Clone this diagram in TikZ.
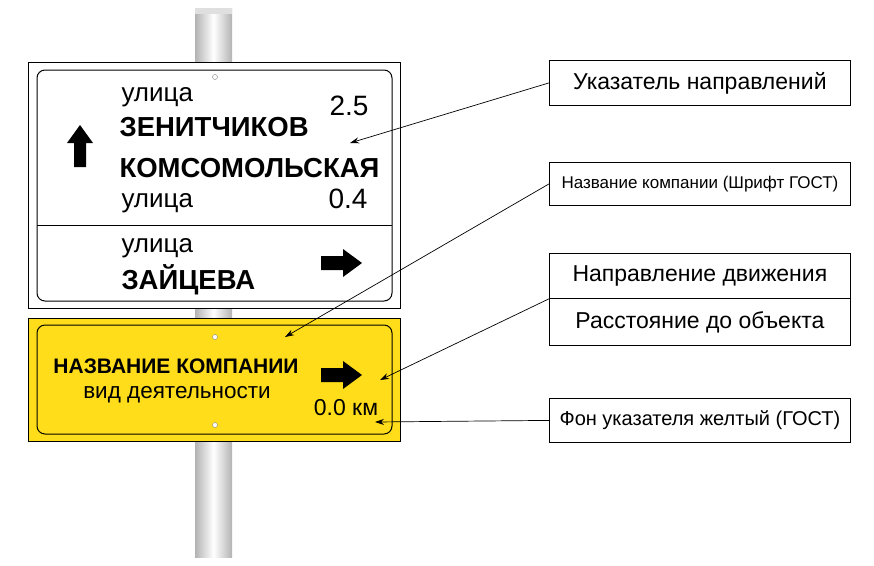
\documentclass[tikz,border=0pt]{standalone}
\usepackage{fontspec}
\setmainfont{Liberation Sans}
\usetikzlibrary{arrows.meta}
\begin{document}
\begin{tikzpicture}[x=1pt,y=-1pt,
  lbl/.style={draw,line width=0.8pt,minimum width=301pt,anchor=north west,inner sep=0pt},
  con/.style={-{Stealth[length=9pt,width=6pt]},line width=0.7pt},
  screw/.style={circle,draw=gray,fill=white,inner sep=0pt,minimum size=5pt},
  bigarr/.style={fill=black,draw=none}]
\useasboundingbox (0,0) rectangle (874,565);
% pole
\shade[left color=gray!60,right color=gray!60,middle color=white] (195,8) rectangle (232,557);
\fill[gray!25] (195,8) rectangle (232,14);
% white sign
\draw[line width=1pt,fill=white] (28,62) rectangle (400,308);
\draw[line width=1pt,rounded corners=8pt] (37,70) rectangle (392,301);
\draw[line width=1pt] (37,225) -- (392,225);
% yellow sign
\draw[line width=1pt,fill={rgb,255:red,255;green,221;blue,26}] (28,318) rectangle (400,441);
\draw[line width=1pt,rounded corners=8pt] (37,325) rectangle (392,434);
\node[screw] (s1) at (215,77) {};
\node[screw] (s2) at (215,337) {};
\node[screw] (s3) at (215,425) {};
% texts
\node[anchor=west,font=\fontsize{26}{26}\selectfont] (u1) at (118,97) {улица};
\node[anchor=west,font=\fontsize{27.5}{27}\selectfont\bfseries] (z1) at (116,127) {ЗЕНИТЧИКОВ};
\node[font=\fontsize{28}{28}\selectfont] (d1) at (349,106) {2.5};
\node[anchor=west,font=\fontsize{27.5}{27}\selectfont\bfseries] (k1) at (116,168) {КОМСОМОЛЬСКАЯ};
\node[anchor=west,font=\fontsize{26}{26}\selectfont] (u2) at (118,203) {улица};
\node[font=\fontsize{28}{28}\selectfont] (d2) at (348,199) {0.4};
\node[anchor=west,font=\fontsize{26}{26}\selectfont] (u3) at (118,248) {улица};
\node[anchor=west,font=\fontsize{27.5}{27}\selectfont\bfseries] (z2) at (118,280) {ЗАЙЦЕВА};
\node[font=\fontsize{21}{21}\selectfont\bfseries] (n1) at (176,366) {НАЗВАНИЕ КОМПАНИИ};
\node[font=\fontsize{22.5}{22}\selectfont] (n2) at (177,395) {вид деятельности};
\node[font=\fontsize{23}{23}\selectfont] (n3) at (346,408) {0.0 км};
% big arrows
\fill[bigarr] (74,167) -- (74,143) -- (67,143) -- (80,125) -- (93,143) -- (86,143) -- (86,167) -- cycle;
\fill[bigarr] (321,256) -- (343,256) -- (343,249) -- (362,263) -- (343,277) -- (343,270) -- (321,270) -- cycle;
\fill[bigarr] (321,368) -- (343,368) -- (343,361) -- (362,375) -- (343,389) -- (343,382) -- (321,382) -- cycle;
% label boxes
\node[lbl,minimum height=45pt,font=\fontsize{23}{23}\selectfont] (b1) at (549,60) {Указатель направлений};
\node[lbl,minimum height=43pt,font=\fontsize{17}{17}\selectfont] (b2) at (549,162) {Название компании (Шрифт ГОСТ)};
\node[lbl,minimum height=45pt,font=\fontsize{23}{23}\selectfont] (b3) at (549,253) {Направление движения};
\node[lbl,minimum height=47pt,font=\fontsize{23}{23}\selectfont] (b4) at (549,298) {Расстояние до объекта};
\node[lbl,minimum height=44pt,font=\fontsize{20}{20}\selectfont] (b5) at (549,398) {Фон указателя желтый (ГОСТ)};
\coordinate (t1) at (350,143);
\coordinate (t2) at (285,337);
\coordinate (t3) at (380,380);
\coordinate (t5) at (375,422);
\draw[con] (b1.west) -- (t1);
\draw[con] (b2.west) -- (t2);
\draw[con] (b3.south west) -- (t3);
\draw[con] (b5.west) -- (t5);
\end{tikzpicture}
\end{document}
